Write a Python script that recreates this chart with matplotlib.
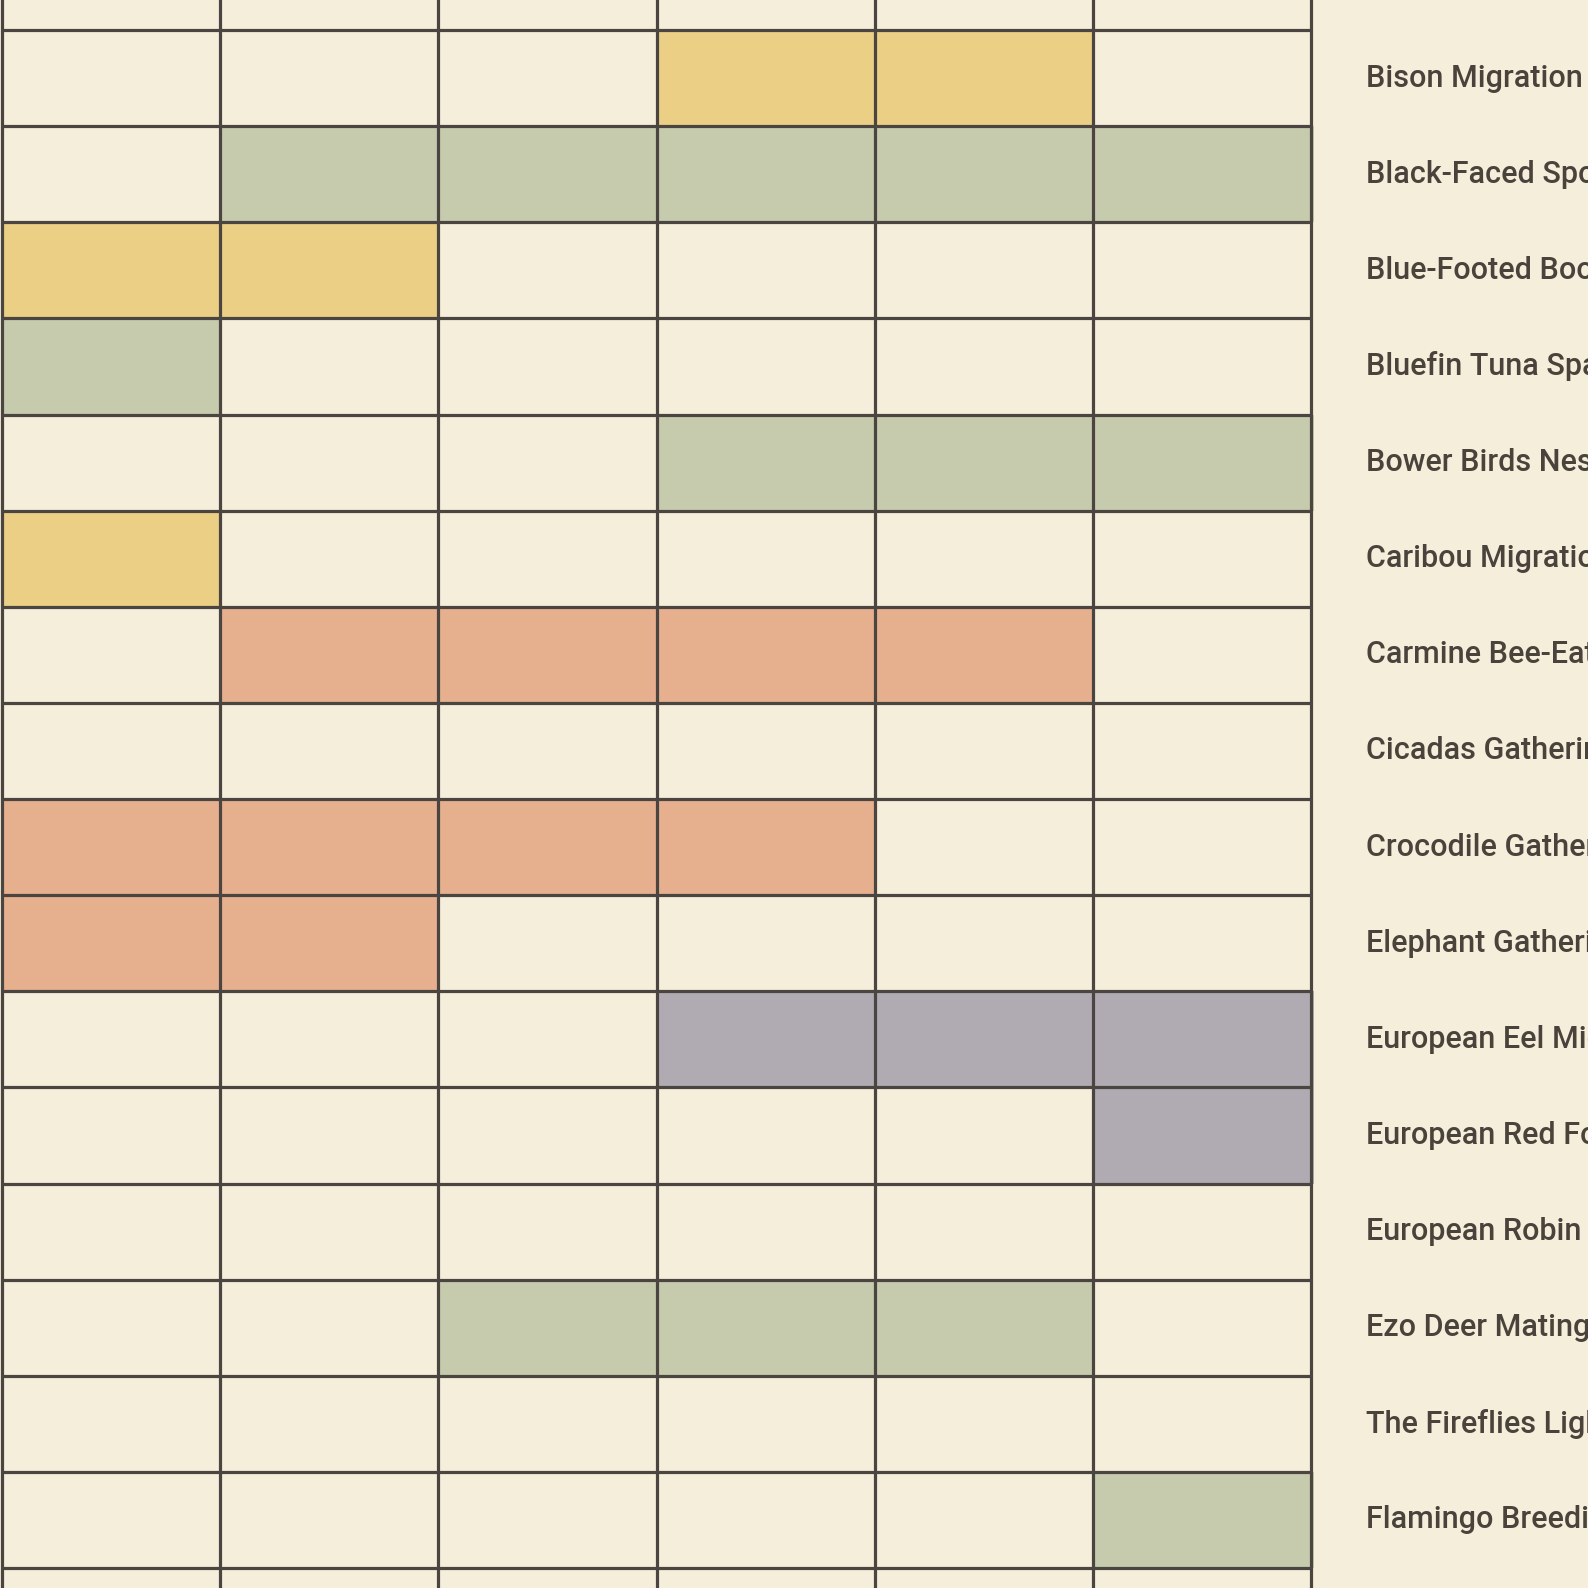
import matplotlib
matplotlib.use("Agg")
import matplotlib.pyplot as plt
from matplotlib.patches import Rectangle

# ---- data ----
categories = [
    "Bison Migration",
    "Black-Faced Spoonbill Migration",
    "Blue-Footed Booby Mating",
    "Bluefin Tuna Spawning",
    "Bower Birds Nesting",
    "Caribou Migration",
    "Carmine Bee-Eaters Nesting",
    "Cicadas Gathering",
    "Crocodile Gathering",
    "Elephant Gathering",
    "European Eel Migration",
    "European Red Fox Mating",
    "European Robin Nesting",
    "Ezo Deer Mating",
    "The Fireflies Lighting",
    "Flamingo Breeding",
]
# cell codes per visible column: '' none, Y yellow, G green, S salmon, P purple
cells = [
    ["", "", "", "Y", "Y", ""],
    ["", "G", "G", "G", "G", "G"],
    ["Y", "Y", "", "", "", ""],
    ["G", "", "", "", "", ""],
    ["", "", "", "G", "G", "G"],
    ["Y", "", "", "", "", ""],
    ["", "S", "S", "S", "S", ""],
    ["", "", "", "", "", ""],
    ["S", "S", "S", "S", "", ""],
    ["S", "S", "", "", "", ""],
    ["", "", "", "P", "P", "P"],
    ["", "", "", "", "", "P"],
    ["", "", "", "", "", ""],
    ["", "", "G", "G", "G", ""],
    ["", "", "", "", "", ""],
    ["", "", "", "", "", "G"],
]
palette = {"Y": "#ebcf85", "G": "#c7cbad", "S": "#e6b08f", "P": "#b0abb2"}

BG = "#f5eedb"
LINE = "#4a4540"
TEXT = "#4a433c"

W, H = 1588, 1588
fig = plt.figure(figsize=(W / 100, H / 100), dpi=100, facecolor=BG)
ax = fig.add_axes([0, 0, 1, 1])
ax.set_facecolor(BG)

ncols = len(cells[0])
nrows = len(categories)
colw = (1311 - 2) / ncols   # pixels per column
rowh = (1568 - 30) / nrows  # pixels per row
ax.set_xlim(-2 / colw, (W - 2) / colw)
ax.set_ylim((H - 30) / rowh, -30 / rowh)
ax.axis("off")

for r, row in enumerate(cells):
    for c, code in enumerate(row):
        if code:
            ax.add_patch(Rectangle((c, r), 1.012 if c == ncols - 1 else 1, 1,
                                   facecolor=palette[code], edgecolor="none", zorder=1))

# grid
for y in range(-1, nrows + 2):
    ax.plot([0, ncols], [y, y], color=LINE, lw=2.3, zorder=3, solid_capstyle="butt")
for x in range(0, ncols + 1):
    ax.plot([x, x], [-1, nrows + 1], color=LINE, lw=2.3, zorder=3, solid_capstyle="butt")

label_x = (1366 - 2) / colw
for r, name in enumerate(categories):
    ax.text(label_x, r + 0.5, name, ha="left", va="center", fontsize=22,
            family="Roboto", weight="medium", color=TEXT, zorder=4)

fig.savefig("out.png", dpi=100, facecolor=BG)
